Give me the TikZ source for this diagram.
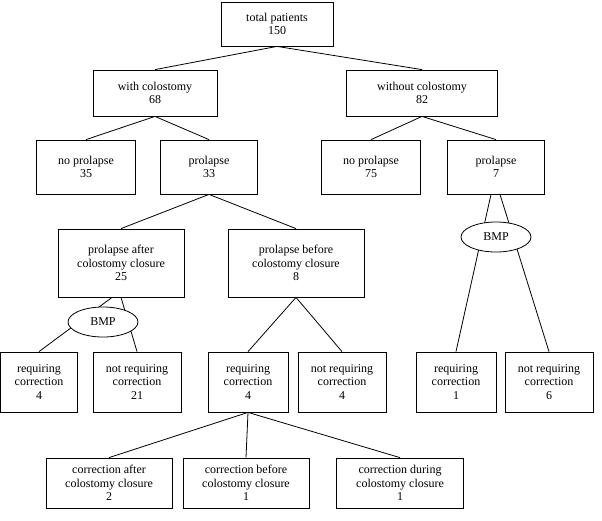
\documentclass[tikz,border=0pt]{standalone}
\usepackage{fontspec}
\setmainfont{Liberation Serif}
\usetikzlibrary{shapes.geometric}
\begin{document}
\begin{tikzpicture}[x=1pt,y=-1pt,
 bx/.style={draw,thick,align=center,font=\fontsize{12}{13.5}\selectfont,inner sep=1pt},
 el/.style={draw,thick,ellipse,fill=white,minimum width=70pt,minimum height=30pt,font=\fontsize{12}{13.5}\selectfont,inner sep=0pt},
 ln/.style={thick}]
\useasboundingbox (0,0) rectangle (602,520);
\newcommand{\bxn}[7]{\node[bx,minimum width=#4pt,minimum height=#5pt] (#1) at (#2,#3) {#6\\#7};}
\bxn{t}{277}{24}{112}{44}{total patients}{150}
\bxn{w}{155}{93}{124}{46}{with colostomy}{68}
\bxn{wo}{422}{93}{151}{46}{without colostomy}{82}
\bxn{np1}{86}{167}{99}{54}{no prolapse}{35}
\bxn{p1}{209}{167}{97}{54}{prolapse}{33}
\bxn{np2}{371}{167}{99}{54}{no prolapse}{75}
\bxn{p2}{496}{167}{97}{54}{prolapse}{7}
\node[bx,minimum width=126pt,minimum height=68pt] (pa) at (121,263) {prolapse after\\colostomy closure\\25};
\node[bx,minimum width=136pt,minimum height=68pt] (pb) at (296,263) {prolapse before\\colostomy closure\\8};
\node[bx,minimum width=77pt,minimum height=60pt] (r1) at (39,382) {requiring\\correction\\4};
\node[bx,minimum width=88pt,minimum height=60pt] (n1) at (137,382) {not requiring\\correction\\21};
\node[bx,minimum width=80pt,minimum height=60pt] (r2) at (248,382) {requiring\\correction\\4};
\node[bx,minimum width=88pt,minimum height=60pt] (n2) at (342,382) {not requiring\\correction\\4};
\node[bx,minimum width=80pt,minimum height=60pt] (r3) at (456,382) {requiring\\correction\\1};
\node[bx,minimum width=88pt,minimum height=60pt] (n3) at (549,382) {not requiring\\correction\\6};
\node[bx,minimum width=126pt,minimum height=50pt] (c1) at (109,483) {correction after\\colostomy closure\\2};
\node[bx,minimum width=126pt,minimum height=50pt] (c2) at (246,483) {correction before\\colostomy closure\\1};
\node[bx,minimum width=127pt,minimum height=50pt] (c3) at (400,483) {correction during\\colostomy closure\\1};
\foreach \a/\b in {t/w,t/wo,w/np1,w/p1,wo/np2,wo/p2,p1/pa,p1/pb,pb/r2,pb/n2,r2/c1,r2/c2,r2/c3}
  \draw[ln] (\a.south) -- (\b.north);
\draw[ln] ([xshift=-9pt]pa.south) -- (r1.north);
\draw[ln] (pa.south) -- (n1.north);
\draw[ln] ([xshift=-5pt]p2.south) -- (r3.north);
\draw[ln] ([xshift=4pt]p2.south) -- (n3.north);
\node[el] (b1) at (103,322) {BMP};
\node[el] (b2) at (496,237) {BMP};
\end{tikzpicture}
\end{document}
